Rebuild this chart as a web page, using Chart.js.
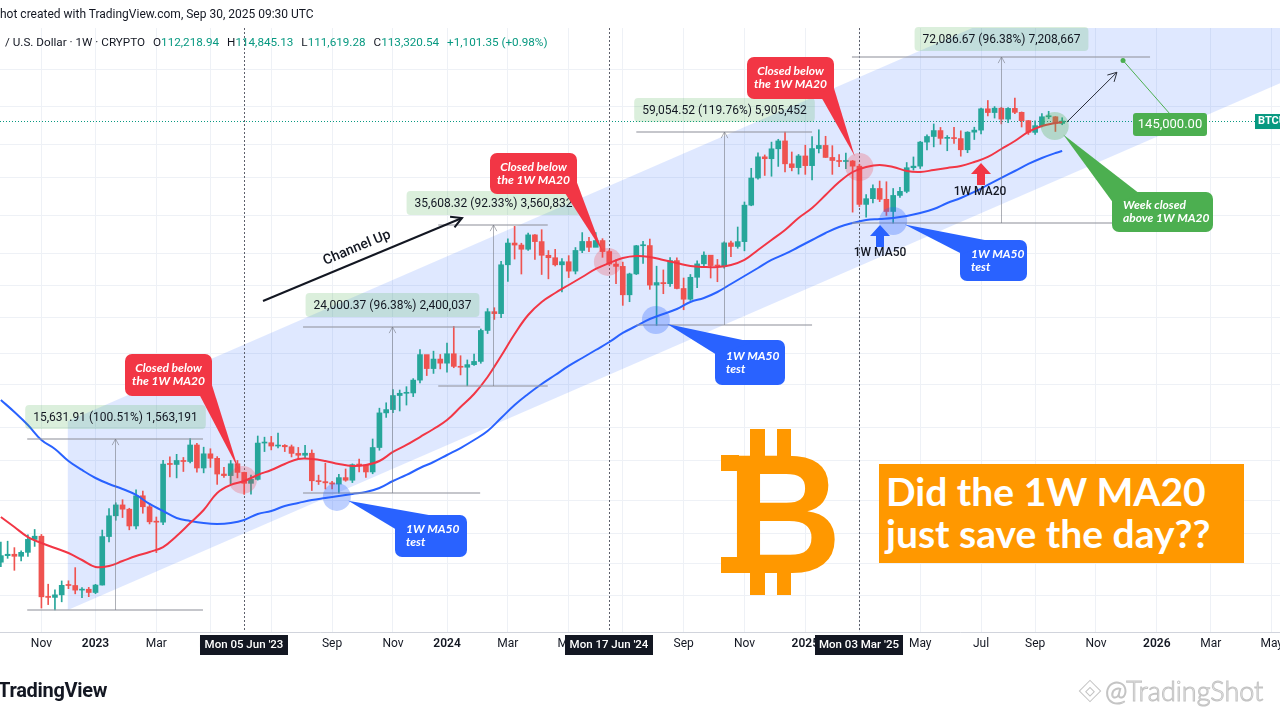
<!DOCTYPE html>
<html>
<head>
<meta charset="utf-8">
<title>BTCUSD 1W - Did the 1W MA20 just save the day??</title>
<script src="https://cdn.jsdelivr.net/npm/chart.js@4.4.1/dist/chart.umd.min.js"></script>
<style>
  html, body { margin: 0; padding: 0; background: #fff; }
  body { width: 1280px; height: 720px; overflow: hidden; position: relative; font-family: Roboto, "Noto Sans", sans-serif; color: #131722; }
  #chart { position: absolute; left: 0; top: 0; }
  .snap { position: absolute; left: 0; top: 7px; font-size: 12px; white-space: nowrap; color: #131722; }
  .legend { position: absolute; left: 5px; top: 35px; font-size: 11.7px; white-space: nowrap; color: #131722; }
  .legend .k { margin-left: 8px; }
  .legend .v { color: #089981; }
  .question { position: absolute; left: 879px; top: 464px; width: 365px; height: 99px; box-sizing: border-box;
              padding: 6px 0 0 7px; background: #ff9800; color: #fff; font-family: Lato, sans-serif; font-weight: 700;
              font-size: 39px; line-height: 42px; white-space: nowrap; }
  .tv { position: absolute; left: -2px; top: 678px; font-size: 20px; font-weight: 700; letter-spacing: -0.3px; color: #131722; }
  .ts { position: absolute; left: 1105px; top: 674px; font-family: Lato, sans-serif; font-weight: 300; font-size: 27px;
        color: transparent; -webkit-text-stroke: 1px #c4c4c4; white-space: nowrap; }
  .ts-icon { position: absolute; left: 1082px; top: 683px; width: 14px; height: 14px; border: 1.5px solid #c4c4c4; transform: rotate(45deg); }
  .ts-icon::after { content: ""; position: absolute; left: 4px; top: 4px; width: 5px; height: 5px; border: 1.5px solid #c4c4c4; }
</style>
</head>
<body>
<canvas id="chart" width="1280" height="720"></canvas>
<div class="snap">hot created with TradingView.com, Sep 30, 2025 09:30 UTC</div>
<div class="legend">/ U.S. Dollar · 1W · CRYPTO<span class="k">O<span class="v">112,218.94</span></span><span class="k">H<span class="v">114,845.13</span></span><span class="k">L<span class="v">111,619.28</span></span><span class="k">C<span class="v">113,320.54</span></span><span class="k v">+1,101.35 (+0.98%)</span></div>
<div class="question">Did the 1W MA20<br>just save the day??</div>
<div class="tv">TradingView</div>
<div class="ts-icon"></div>
<div class="ts">@TradingShot</div>
<script>
// Weekly BTCUSD candles, week index 0 = Mon 02 Jan 2023
const firstWeek = -14;
const firstOpen = 18800;

const closes = [
  19310, 19420, 19260, 19570, 20630, 20900, 16330, 16290, 16460, 17110, 17100, 16780, 16840, 16620,
  17130, 20870, 22710, 23740, 23330, 21790, 24640, 23560, 22160, 22130,
  28030, 27990, 28450, 28330, 30300, 27590, 29230, 28700, 26920, 26750,
  28070, 27100, 25920, 26340, 30540, 30580, 30170, 30250, 30080, 29280,
  29060, 29300, 26190, 26100, 25970, 25840, 26530, 26250, 27970, 27920,
  27150, 29990, 34530, 35000, 37060, 37400, 37450, 39460, 43780, 41360,
  42990, 42280,
  43930, 41730, 41580, 42030, 42580, 48300, 52140, 51730, 63110, 68950,
  68390, 67230, 71280, 69360, 65600, 64950, 63100, 63900, 61500, 66900,
  69400, 67760, 69650, 66600, 63300, 62700, 55850, 60800, 68200, 68250,
  58100, 58700, 58430, 64200, 57300, 54850, 59980, 63350, 65630, 62900,
  62800, 69000, 68000, 69350, 80450, 89850, 97950, 97200, 101200, 104500,
  95200, 93750,
  98300, 94500, 101300, 102600, 97700, 96500, 96100, 96300, 94300, 80700,
  82600, 86100, 82400, 78400, 83700, 85100, 93700, 94300, 104000, 106400,
  109000, 105600, 105700, 105500, 100800, 108300, 109200, 119100, 117300, 119400,
  114200, 119300, 117400, 113500, 108200, 111200, 115300, 115300, 112218.94, 113320.54
];
const highs = [
  20400, 20480, 19950, 19700, 21020, 21480, 21050, 17190, 16800, 17420, 17430, 18390, 16950, 16970,
  17180, 21430, 23380, 23950, 24250, 23420, 25250, 25120, 23890, 22600,
  28470, 28870, 29170, 28800, 31100, 30500, 30030, 29840, 28900, 27660,
  28450, 28450, 27130, 26800, 31430, 31280, 31380, 31800, 30350, 30300,
  30000, 30250, 29700, 26800, 28140, 26120, 26880, 27480, 28060, 28600,
  28000, 31050, 35200, 35980, 37980, 37900, 38420, 39700, 44700, 43440,
  44400, 43800,
  45900, 49100, 43580, 42840, 43880, 48590, 52800, 52990, 64000, 70140,
  73800, 68900, 71780, 71340, 72800, 66880, 67200, 64700, 65500, 67700,
  71950, 70600, 71950, 70190, 67000, 64400, 63800, 61000, 68300, 69400,
  70080, 62750, 61800, 65000, 64950, 59800, 60670, 64130, 66500, 65500,
  64500, 69300, 69500, 73600, 81500, 93480, 99600, 98700, 104000, 105200,
  108366, 99900,
  98900, 102700, 106400, 109350, 106500, 102500, 98800, 99500, 96500, 95000,
  84000, 87400, 88750, 88500, 86100, 86500, 95700, 97900, 104300, 107100,
  111980, 110400, 106800, 110500, 108900, 108500, 110500, 119500, 123200, 120200,
  119800, 119700, 124450, 117600, 113600, 113400, 116800, 117900, 115400, 114845.13
];
const lows = [
  18470, 19100, 18190, 18900, 19250, 20050, 15600, 15820, 15476, 16000, 16880, 16530, 16280, 16340,
  16540, 17130, 20420, 22300, 22550, 21450, 21530, 22950, 21970, 19550,
  21900, 26600, 26500, 27200, 28170, 27130, 27050, 27660, 25810, 26550,
  25880, 26500, 24780, 24800, 26260, 29500, 29700, 29950, 29500, 28860,
  28600, 28700, 25170, 25800, 25330, 25350, 24902, 26140, 26000, 27150,
  26540, 26950, 29660, 33900, 34550, 34800, 35650, 36900, 39000, 40200,
  40550, 41300,
  40750, 41500, 40300, 38555, 41880, 42260, 47700, 50520, 50900, 59000,
  64600, 60780, 66900, 64500, 60660, 59600, 62800, 56500, 59900, 60800,
  66300, 66600, 68500, 65060, 63000, 58450, 53500, 54300, 60650, 63450,
  57100, 49311, 56100, 57800, 57200, 52550, 54600, 57500, 62700, 59800,
  58900, 62250, 65200, 67500, 66800, 80250, 89400, 90800, 90500, 94200,
  92100, 92500,
  91300, 91200, 89200, 99500, 97700, 91200, 94100, 93300, 78200, 80000,
  76600, 81200, 81600, 77150, 74794, 83000, 84600, 92800, 93400, 100700,
  102000, 103100, 100400, 103400, 98200, 99600, 105100, 107500, 115700, 114700,
  112000, 112600, 116800, 110600, 107300, 107300, 110600, 114400, 108600, 111619.28
];
const opens = closes.map((c, i) => (i === 0 ? firstOpen : closes[i - 1]));
const lastPrice = closes[closes.length - 1];

// moving averages, every second week
const maWeeks = [-14, -12, -10, -8, -6, -4, -2, 0, 2, 4, 6, 8, 10, 12, 14, 16, 18, 20, 22, 24, 26, 28, 30, 32, 34, 36, 38, 40,
  42, 44, 46, 48, 50, 52, 54, 56, 58, 60, 62, 64, 66, 68, 70, 72, 74, 76, 78, 80, 82, 84, 86, 88, 90, 92, 94, 96, 98, 100,
  102, 104, 106, 108, 110, 112, 114, 116, 118, 120, 122, 124, 126, 128, 130, 132, 134, 136, 138, 140, 142, 143];
const ma20 = [22600, 21700, 20830, 20330, 19920, 19520, 18970, 18440, 18510, 18890, 19280, 19600, 20000, 20920, 22050, 23250,
  24920, 25750, 26170, 26820, 27370, 28040, 28620, 28620, 28390, 28040, 27820, 27930, 28390, 29450, 30300, 31300, 32340, 33540,
  35370, 37290, 39970, 43530, 47610, 51440, 54240, 56260, 58120, 60050, 62040, 63570, 64880, 65410, 65140, 64360, 63570, 62800,
  62550, 62550, 63050, 64360, 67030, 69810, 72710, 76360, 79530, 83850, 88410, 92080, 93980, 94750, 93980, 92460, 92080, 92830,
  93590, 94360, 95910, 97890, 101120, 104470, 108380, 111050, 112420, 112700];
const ma50 = [36390, 34660, 32870, 30920, 29810, 28390, 27370, 26490, 25850, 25330, 24720, 23830, 23160, 22510, 22240, 22050,
  21970, 22050, 22330, 22880, 23160, 23640, 23930, 24220, 24420, 24620, 24820, 25020, 25430, 26170, 26820, 27590, 28270, 29090,
  29930, 30920, 32080, 33820, 35660, 37290, 38840, 40290, 41800, 43180, 44610, 46080, 47810, 49190, 50610, 51650, 52710, 54240,
  55130, 56490, 58360, 60290, 62290, 64360, 65950, 67850, 69810, 71830, 73610, 74810, 75730, 76040, 76360, 76980, 77920, 79200,
  81170, 82830, 84890, 87340, 89870, 92460, 95140, 97490, 99490, 100310];

// axis
const tickWeeks = [-8, 0, 9, 17, 26, 35, 44, 52, 61, 70, 78, 87, 96, 105, 113, 122, 131, 139, 148, 157, 165, 174];
const tickLabels = ['Nov', '2023', 'Mar', 'May', 'Jul', 'Sep', 'Nov', '2024', 'Mar', 'May', 'Jul', 'Sep', 'Nov', '2025',
  'Mar', 'May', 'Jul', 'Sep', 'Nov', '2026', 'Mar', 'May'];
const priceGrid = [16400, 18700, 21100, 24200, 28400, 32600, 38700, 44000, 51000, 58000, 66000, 77000, 90000, 103000, 120000, 140000];
const markerWeeks = [22, 76, 113];
const markerLabels = ["Mon 05 Jun '23", "Mon 17 Jun '24", "Mon 03 Mar '25"];

// drawings
const channelWeeks = [-4.1, 175.3];
const channelLow = [15476, 132300];
const channelHigh = [33380, 285600];

const measureFrom = [-10.1, 30.7, 50.7, 80, 111.9];
const measureTo = [15.9, 56.9, 66.9, 106, 156];
const measureLow = [15476, 24902, 38566, 49311, 74794];
const measureHigh = [31107.91, 48902.37, 74174.32, 108365.52, 146880.67];
const measureText = ['15,631.91 (100.51%) 1,563,191', '24,000.37 (96.38%) 2,400,037', '35,608.32 (92.33%) 3,560,832',
  '59,054.52 (119.76%) 5,905,452', '72,086.67 (96.38%) 7,208,667'];

const circleWeeks = [21.8, 75.8, 113, 35.7, 82.9, 118, 141.9];
const circlePrices = [26280, 63840, 93980, 24520, 50400, 75430, 111050];

const targetWeek = 152;
const targetPrice = 145000;
const projFrom = [143.7, 112870];
const projTo = [151.1, 138200];

const RED = '#f23645', BLUE = '#2962ff', GREEN = '#4caf50';
const UP = '#26a69a', DOWN = '#ef5350';

const callouts = [
  { circle: 0, color: RED, box: [125, 354, 87, 42], base: [[198, 392], [211, 382]], lines: ['Closed below', 'the 1W MA20'], center: true },
  { circle: 1, color: RED, box: [490, 153, 87, 41], base: [[563, 190], [576, 180]], lines: ['Closed below', 'the 1W MA20'], center: true },
  { circle: 2, color: RED, box: [747, 57, 87, 42], base: [[820, 95], [833, 85]], lines: ['Closed below', 'the 1W MA20'], center: true },
  { circle: 3, color: BLUE, box: [395, 515, 72, 42], base: [[397, 530], [440, 517]], lines: ['1W MA50', 'test'], center: false },
  { circle: 4, color: BLUE, box: [715, 340, 70, 45], base: [[717, 355], [752, 342]], lines: ['1W MA50', 'test'], center: false },
  { circle: 5, color: BLUE, box: [960, 240, 67, 41], base: [[962, 254], [995, 242]], lines: ['1W MA50', 'test'], center: false },
  { circle: 6, color: GREEN, box: [1112, 192, 101, 40], base: [[1114, 204], [1140, 194]], lines: ['Week closed', 'above 1W MA20'], center: false }
];

const weeks = closes.map((c, i) => firstWeek + i);
const candleColors = closes.map((c, i) => (c >= opens[i] ? UP : DOWN));
const yearWeeks = tickWeeks.filter((w, i) => /^\d{4}$/.test(tickLabels[i]));

function arrowHead(ctx, x0, y0, x1, y1, len) {
  const ang = Math.atan2(y1 - y0, x1 - x0);
  ctx.beginPath();
  ctx.moveTo(x1 - len * Math.cos(ang - 0.5), y1 - len * Math.sin(ang - 0.5));
  ctx.lineTo(x1, y1);
  ctx.lineTo(x1 - len * Math.cos(ang + 0.5), y1 - len * Math.sin(ang + 0.5));
  ctx.stroke();
}

function upArrow(ctx, cx, top, color) {
  ctx.fillStyle = color;
  ctx.beginPath();
  ctx.moveTo(cx, top);
  ctx.lineTo(cx + 10, top + 11);
  ctx.lineTo(cx + 4, top + 11);
  ctx.lineTo(cx + 4, top + 22);
  ctx.lineTo(cx - 4, top + 22);
  ctx.lineTo(cx - 4, top + 11);
  ctx.lineTo(cx - 10, top + 11);
  ctx.closePath();
  ctx.fill();
}

const overlay = {
  id: 'overlay',
  beforeDatasetsDraw(chart) {
    const { ctx, chartArea: a, scales: { x, y } } = chart;
    ctx.save();
    ctx.beginPath();
    ctx.rect(a.left, a.top, a.width, a.height);
    ctx.clip();

    // parallel channel
    ctx.beginPath();
    ctx.moveTo(x.getPixelForValue(channelWeeks[0]), y.getPixelForValue(channelLow[0]));
    ctx.lineTo(x.getPixelForValue(channelWeeks[1]), y.getPixelForValue(channelLow[1]));
    ctx.lineTo(x.getPixelForValue(channelWeeks[1]), y.getPixelForValue(channelHigh[1]));
    ctx.lineTo(x.getPixelForValue(channelWeeks[0]), y.getPixelForValue(channelHigh[0]));
    ctx.closePath();
    ctx.fillStyle = 'rgba(41, 98, 255, 0.15)';
    ctx.fill();

    // last price line
    const lp = Math.round(y.getPixelForValue(lastPrice)) + 0.5;
    ctx.lineWidth = 1;
    ctx.setLineDash([1, 2]);
    ctx.strokeStyle = '#089981';
    ctx.beginPath();
    ctx.moveTo(a.left, lp);
    ctx.lineTo(a.right, lp);
    ctx.stroke();

    // vertical date markers
    ctx.setLineDash([2, 2]);
    ctx.strokeStyle = '#5d606b';
    markerWeeks.forEach(w => {
      const px = Math.round(x.getPixelForValue(w)) + 0.5;
      ctx.beginPath();
      ctx.moveTo(px, a.top);
      ctx.lineTo(px, a.bottom);
      ctx.stroke();
    });
    ctx.restore();
  },

  afterDatasetsDraw(chart) {
    const { ctx, chartArea: a, scales: { x, y } } = chart;
    ctx.save();

    // price range measurements
    measureText.forEach((txt, i) => {
      const x0 = x.getPixelForValue(measureFrom[i]);
      const x1 = x.getPixelForValue(measureTo[i]);
      const yLo = Math.round(y.getPixelForValue(measureLow[i]));
      const yHi = Math.round(y.getPixelForValue(measureHigh[i]));
      const xm = Math.round((x0 + x1) / 2) + 0.5;
      ctx.strokeStyle = 'rgba(149, 152, 161, 0.55)';
      ctx.lineWidth = 2;
      ctx.beginPath();
      ctx.moveTo(x0, yLo); ctx.lineTo(x1, yLo);
      ctx.moveTo(x0, yHi); ctx.lineTo(x1, yHi);
      ctx.stroke();
      ctx.strokeStyle = 'rgba(120, 123, 134, 0.6)';
      ctx.lineWidth = 1;
      ctx.beginPath();
      ctx.moveTo(xm, yLo); ctx.lineTo(xm, yHi);
      ctx.stroke();
      arrowHead(ctx, xm, yLo, xm, yHi, 7);

      ctx.font = '12px Roboto';
      const bw = ctx.measureText(txt).width + 16, bh = 24;
      const by = Math.max(a.top - 1, yHi - 10 - bh);
      ctx.fillStyle = 'rgba(76, 175, 80, 0.2)';
      ctx.beginPath();
      ctx.roundRect(xm - bw / 2, by, bw, bh, 4);
      ctx.fill();
      ctx.fillStyle = '#131722';
      ctx.textAlign = 'center';
      ctx.textBaseline = 'middle';
      ctx.fillText(txt, xm, by + bh / 2 + 1);
    });

    // circles
    const cpos = circleWeeks.map((w, i) => [x.getPixelForValue(w), y.getPixelForValue(circlePrices[i])]);
    const cfill = ['rgba(242,54,69,0.25)', 'rgba(242,54,69,0.25)', 'rgba(242,54,69,0.25)',
      'rgba(41,98,255,0.3)', 'rgba(41,98,255,0.3)', 'rgba(41,98,255,0.3)', 'rgba(76,175,80,0.3)'];
    cpos.forEach((p, i) => {
      ctx.fillStyle = cfill[i];
      ctx.beginPath();
      ctx.arc(p[0], p[1], 14, 0, Math.PI * 2);
      ctx.fill();
    });

    // callouts
    callouts.forEach(c => {
      const [bx, by, bw, bh] = c.box;
      const [cx, cy] = cpos[c.circle];
      const mx = (c.base[0][0] + c.base[1][0]) / 2, my = (c.base[0][1] + c.base[1][1]) / 2;
      const d = Math.hypot(mx - cx, my - cy);
      const tx = cx + (mx - cx) / d * 12, ty = cy + (my - cy) / d * 12;
      ctx.fillStyle = c.color;
      ctx.beginPath();
      ctx.roundRect(bx, by, bw, bh, 7);
      ctx.fill();
      ctx.beginPath();
      ctx.moveTo(c.base[0][0], c.base[0][1]);
      ctx.lineTo(tx, ty);
      ctx.lineTo(c.base[1][0], c.base[1][1]);
      ctx.closePath();
      ctx.fill();
      ctx.fillStyle = '#fff';
      ctx.font = 'italic bold 12px Lato, "Open Sans", sans-serif';
      ctx.textBaseline = 'middle';
      ctx.textAlign = c.center ? 'center' : 'left';
      const tx0 = c.center ? bx + bw / 2 : bx + 11;
      ctx.fillText(c.lines[0], tx0, by + bh / 2 - 6.5);
      ctx.fillText(c.lines[1], tx0, by + bh / 2 + 6.5);
    });

    // MA arrows and labels
    upArrow(ctx, 981, 163, RED);
    upArrow(ctx, 880, 225, BLUE);
    ctx.fillStyle = '#131722';
    ctx.font = '500 12px Roboto';
    ctx.textAlign = 'center';
    ctx.textBaseline = 'middle';
    ctx.fillText('1W MA20', 980, 192);
    ctx.fillText('1W MA50', 880, 253);

    // Channel Up trend arrow
    ctx.strokeStyle = '#131722';
    ctx.lineWidth = 2;
    ctx.beginPath();
    ctx.moveTo(263, 301);
    ctx.lineTo(462, 218);
    ctx.stroke();
    arrowHead(ctx, 263, 301, 462, 218, 12);
    ctx.save();
    ctx.translate(357, 248);
    ctx.rotate(Math.atan2(218 - 301, 462 - 263));
    ctx.font = '500 14px Roboto';
    ctx.fillText('Channel Up', 0, 0);
    ctx.restore();

    // projection arrow and target
    const p0x = x.getPixelForValue(projFrom[0]), p0y = y.getPixelForValue(projFrom[1]);
    const p1x = x.getPixelForValue(projTo[0]), p1y = y.getPixelForValue(projTo[1]);
    ctx.strokeStyle = '#2a2e39';
    ctx.lineWidth = 1;
    ctx.beginPath();
    ctx.moveTo(p0x, p0y);
    ctx.lineTo(p1x, p1y);
    ctx.stroke();
    arrowHead(ctx, p0x, p0y, p1x, p1y, 10);

    const tgx = x.getPixelForValue(targetWeek), tgy = y.getPixelForValue(targetPrice);
    ctx.strokeStyle = GREEN;
    ctx.beginPath();
    ctx.moveTo(tgx, tgy);
    ctx.lineTo(1170, 114);
    ctx.stroke();
    ctx.fillStyle = GREEN;
    ctx.beginPath();
    ctx.arc(tgx, tgy, 2.5, 0, Math.PI * 2);
    ctx.fill();
    ctx.beginPath();
    ctx.roundRect(1133, 113, 74, 23, 3);
    ctx.fill();
    ctx.fillStyle = '#fff';
    ctx.font = '13px Roboto';
    ctx.textAlign = 'center';
    ctx.fillText(targetPrice.toLocaleString('en-US', { minimumFractionDigits: 2 }), 1170, 125);
    ctx.restore();
  },

  afterDraw(chart) {
    const { ctx, chartArea: a, scales: { x, y } } = chart;
    ctx.save();
    // crosshair date boxes on the time axis
    ctx.font = '500 11.5px Roboto';
    ctx.textAlign = 'center';
    ctx.textBaseline = 'middle';
    markerWeeks.forEach((w, i) => {
      const px = Math.round(x.getPixelForValue(w));
      ctx.fillStyle = '#131722';
      ctx.fillRect(px - 44, a.bottom + 3, 88, 20);
      ctx.fillStyle = '#fff';
      ctx.fillText(markerLabels[i], px, a.bottom + 13.5);
    });

    // symbol price label at the right edge
    const lp = y.getPixelForValue(lastPrice);
    ctx.fillStyle = '#089981';
    ctx.fillRect(1255, lp - 7, 40, 15);
    ctx.fillStyle = '#fff';
    ctx.font = 'bold 11px Roboto';
    ctx.textAlign = 'left';
    ctx.fillText('BTCUSD', 1258, lp + 0.5);

    // bitcoin logo
    ctx.fillStyle = '#ff9800';
    ctx.font = 'bold 165px "Liberation Sans", Arial, sans-serif';
    ctx.textBaseline = 'alphabetic';
    const m = ctx.measureText('B');
    const gw = m.actualBoundingBoxLeft + m.actualBoundingBoxRight;
    const gh = m.actualBoundingBoxAscent;
    ctx.save();
    ctx.translate(737, 573);
    ctx.scale(98 / gw, 118 / gh);
    ctx.fillText('B', m.actualBoundingBoxLeft, 0);
    ctx.restore();
    ctx.fillRect(721, 455, 18, 16);
    ctx.fillRect(721, 557, 18, 16);
    ctx.fillRect(750, 429, 15, 28);
    ctx.fillRect(777, 429, 14, 28);
    ctx.fillRect(750, 571, 15, 24);
    ctx.fillRect(777, 571, 14, 24);
    ctx.restore();
  }
};

const x0px = 95.5, pxPerWeek = 6.76;

new Chart(document.getElementById('chart'), {
  type: 'bar',
  data: {
    datasets: [
      {
        type: 'line', label: 'MA20', order: 0,
        data: maWeeks.map((w, i) => ({ x: w, y: ma20[i] })),
        borderColor: RED, borderWidth: 2, pointRadius: 0, tension: 0.4
      },
      {
        type: 'line', label: 'MA50', order: 0,
        data: maWeeks.map((w, i) => ({ x: w, y: ma50[i] })),
        borderColor: BLUE, borderWidth: 2, pointRadius: 0, tension: 0.4
      },
      {
        type: 'bar', label: 'body', order: 1,
        data: weeks.map((w, i) => ({ x: w, y: [opens[i], closes[i]] })),
        backgroundColor: candleColors, barThickness: 5, minBarLength: 1, grouped: false, borderWidth: 0
      },
      {
        type: 'bar', label: 'wick', order: 2,
        data: weeks.map((w, i) => ({ x: w, y: [lows[i], highs[i]] })),
        backgroundColor: candleColors, barThickness: 1, grouped: false, borderWidth: 0
      }
    ]
  },
  options: {
    responsive: false,
    animation: false,
    devicePixelRatio: 1,
    layout: { padding: { top: 28, bottom: 65, left: 0, right: 0 } },
    plugins: { legend: { display: false }, tooltip: { enabled: false } },
    scales: {
      x: {
        type: 'linear',
        min: (0 - x0px) / pxPerWeek,
        max: (1280 - x0px) / pxPerWeek,
        offset: false,
        grid: { color: '#eef1f6', drawTicks: false, offset: false },
        border: { display: true, color: '#d1d4dc' },
        ticks: {
          autoSkip: false, maxRotation: 0, padding: 5, color: '#131722',
          font: c => ({ family: 'Roboto', size: 12, weight: c.tick && yearWeeks.includes(c.tick.value) ? '600' : '400' }),
          callback: v => { const i = tickWeeks.indexOf(v); return i >= 0 ? tickLabels[i] : ''; }
        },
        afterBuildTicks: s => { s.ticks = tickWeeks.map(v => ({ value: v })); },
        afterFit: s => { s.height = 23; s.paddingLeft = 0; s.paddingRight = 0; }
      },
      y: {
        type: 'logarithmic',
        position: 'right',
        min: 14150,
        max: 165500,
        grid: { color: '#eef1f6', drawTicks: false },
        border: { display: false },
        ticks: { display: false },
        afterBuildTicks: s => { s.ticks = priceGrid.map(v => ({ value: v })); },
        afterFit: s => { s.width = 0; s.paddingTop = 0; s.paddingBottom = 0; }
      }
    }
  },
  plugins: [overlay]
});
</script>
</body>
</html>
